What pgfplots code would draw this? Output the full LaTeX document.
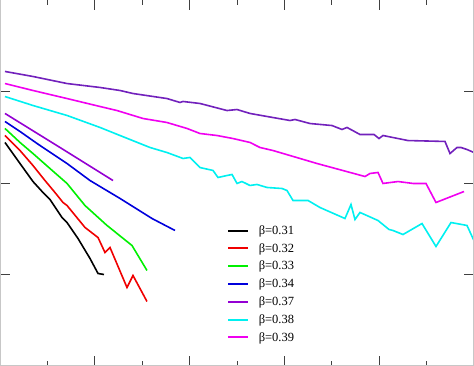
\documentclass[border=0pt]{standalone}
\usepackage{fontspec}
\setmainfont{Liberation Serif}
\usepackage{pgfplots}
\pgfplotsset{compat=1.18}
\definecolor{gviolet}{RGB}{148,0,211}
\definecolor{gindigo}{RGB}{114,33,188}
\definecolor{ggreen}{RGB}{0,240,0}
\definecolor{gcyan}{RGB}{0,240,240}
\definecolor{gmagenta}{RGB}{240,0,240}
\definecolor{gred}{RGB}{240,0,0}
\definecolor{gblue}{RGB}{0,0,220}
\begin{document}
\begin{tikzpicture}
\begin{axis}[
  name=ax,
  scale only axis,
  width=474bp, height=366bp,
  xmin=0, xmax=10, ymin=0, ymax=4,
  xtick={2,4,6,8}, minor xtick={1,3,5,7,9},
  ytick={1,2,3},
  xticklabels={}, yticklabels={},
  tick align=inside,
  major tick length=10bp, minor tick length=5bp,
  every tick/.style={color=black!75, line width=0.9bp},
  axis line style={draw=none},
  every axis plot/.append style={line width=1.6bp},
  legend cell align=left,
  legend image code/.code={\draw[#1, line width=2.1bp] (0bp,0bp) -- (20bp,0bp);},
  legend style={at={(axis cs:4.789,1.565)}, anchor=north west, draw=none, fill=none,
    inner sep=0pt, row sep=2.5bp, font=\fontsize{12.5bp}{14bp}\selectfont,
    nodes={inner sep=2.5bp},
    /tikz/every odd column/.append style={column sep=7bp}},
]
\addplot[black] coordinates {(0.105,2.443)(0.422,2.213)(0.696,2.016)(0.907,1.896)(1.055,1.820)(1.308,1.623)(1.414,1.568)(1.646,1.393)(1.899,1.175)(2.068,1.011)(2.194,1.000)};
\addlegendentry{β=0.31}
\addplot[gred] coordinates {(0.105,2.519)(0.422,2.355)(0.696,2.191)(0.949,2.027)(1.160,1.896)(1.329,1.787)(1.414,1.754)(1.793,1.514)(2.068,1.404)(2.215,1.240)(2.321,1.295)(2.679,0.858)(2.806,0.989)(3.101,0.705)};
\addlegendentry{β=0.32}
\addplot[ggreen] coordinates {(0.105,2.596)(0.422,2.443)(0.696,2.322)(1.055,2.158)(1.414,1.995)(1.793,1.754)(2.257,1.536)(2.785,1.317)(3.101,1.044)};
\addlegendentry{β=0.33}
\addplot[gblue] coordinates {(0.105,2.672)(0.422,2.563)(0.781,2.432)(1.414,2.213)(1.899,2.027)(2.532,1.831)(3.207,1.612)(3.692,1.481)};
\addlegendentry{β=0.34}
\addplot[gviolet] coordinates {(0.105,2.760)(1.266,2.388)(2.384,2.027)};
\addlegendentry{β=0.37}
\addplot[gcyan] coordinates {(0.105,2.945)(0.696,2.847)(1.414,2.738)(2.110,2.607)(2.532,2.519)(3.165,2.388)(3.523,2.333)(3.861,2.268)(4.008,2.279)(4.219,2.169)(4.494,2.137)(4.599,2.060)(4.789,2.082)(4.895,2.093)(5.000,1.995)(5.105,2.016)(5.274,1.973)(5.422,1.984)(5.633,1.951)(5.949,1.940)(6.055,1.918)(6.181,1.809)(6.498,1.809)(6.751,1.732)(7.278,1.612)(7.405,1.765)(7.489,1.601)(7.595,1.678)(7.975,1.590)(8.207,1.492)(8.291,1.481)(8.502,1.437)(8.903,1.557)(9.198,1.306)(9.515,1.568)(9.852,1.536)(9.979,1.393)(10.04,1.328)};
\addlegendentry{β=0.38}
\addplot[gmagenta] coordinates {(0.105,3.087)(0.696,3.011)(1.414,2.923)(2.110,2.836)(2.468,2.792)(3.017,2.705)(3.523,2.661)(3.945,2.596)(4.219,2.541)(4.578,2.519)(4.916,2.486)(5.274,2.443)(5.485,2.388)(5.759,2.355)(6.329,2.268)(6.688,2.213)(7.700,2.071)(7.806,2.104)(7.975,2.115)(8.080,1.995)(8.397,2.016)(8.713,1.995)(8.987,1.995)(9.198,1.787)(9.789,1.907)};
\addlegendentry{β=0.39}
\addplot[gindigo, forget plot] coordinates {(0.105,3.219)(0.696,3.164)(1.414,3.087)(2.110,3.044)(2.532,3.011)(2.806,2.978)(3.523,2.923)(3.797,2.880)(3.861,2.891)(4.219,2.869)(4.789,2.792)(5.000,2.803)(5.274,2.760)(5.633,2.727)(6.118,2.683)(6.224,2.694)(6.540,2.650)(7.004,2.628)(7.215,2.585)(7.321,2.607)(7.595,2.530)(7.890,2.530)(7.996,2.486)(8.080,2.519)(8.291,2.497)(8.608,2.464)(9.388,2.454)(9.494,2.322)(9.641,2.388)(9.726,2.388)(9.852,2.366)(10.0,2.333)};
\end{axis}
\draw[black!22, line width=2bp] (ax.north west) -- (ax.south west) -- (ax.south east) -- (ax.north east);
\pgfresetboundingbox
\useasboundingbox (ax.south west) rectangle (ax.north east);
\end{tikzpicture}
\end{document}
